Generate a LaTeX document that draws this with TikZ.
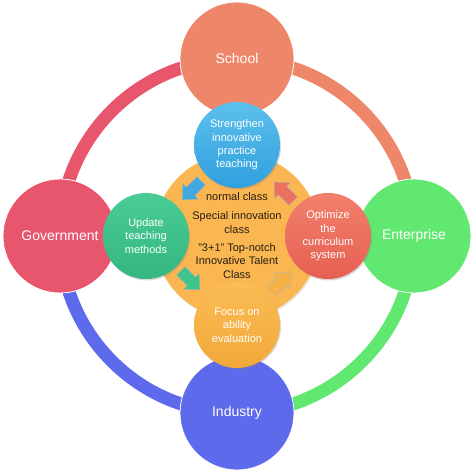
\documentclass[tikz,border=0pt]{standalone}
\usepackage{fontspec}
\setmainfont{Liberation Sans}
\usetikzlibrary{shadows,positioning}
\definecolor{govred}{RGB}{232,86,110}
\definecolor{schoolred}{RGB}{238,134,106}
\definecolor{entgreen}{RGB}{96,232,112}
\definecolor{indblue}{RGB}{94,106,236}
\definecolor{coreorange}{RGB}{250,182,80}
\definecolor{coretext}{RGB}{40,30,20}
\definecolor{arrblue}{RGB}{66,168,226}
\definecolor{arrgreen}{RGB}{62,196,140}
\definecolor{arrorange}{RGB}{246,178,70}
\definecolor{arrred}{RGB}{236,112,96}
\newcommand{\cycarrow}[3]{\draw[draw=black!30,line width=0.4pt,fill=#3,shift={(#1)},rotate=#2] (-13,-6) -- (2,-6) -- (2,-11) -- (14,0) -- (2,11) -- (2,6) -- (-13,6) -- cycle;}

\begin{document}
\begin{tikzpicture}[x=1pt,y=1pt,
  bigc/.style={circle,minimum size=114pt,inner sep=0pt,draw=white,line width=0.8pt,text=white,font=\fontsize{14}{16}\selectfont},
  smallc/.style={circle,minimum size=86pt,inner sep=0pt,align=center,text=white,font=\fontsize{11}{13.3}\selectfont,drop shadow={opacity=0.3,shadow xshift=1pt,shadow yshift=-1.5pt}},
  ringseg/.style={line width=13pt},
  coretxt/.style={align=center,text=coretext,font=\fontsize{11}{13.3}\selectfont}]
  \useasboundingbox (0,0) rectangle (474,474);
  \coordinate (c) at (237,238);
  \coordinate (gc) at (60,238);
  \coordinate (sc) at (237,415);
  \coordinate (ec) at (414,238);
  \coordinate (ic) at (237,61);
  % outer ring
  \draw[ringseg,govred] (gc) arc[start angle=180,end angle=90,radius=177];
  \draw[ringseg,schoolred] (sc) arc[start angle=90,end angle=0,radius=177];
  \draw[ringseg,entgreen] (ec) arc[start angle=0,end angle=-90,radius=177];
  \draw[ringseg,indblue] (ic) arc[start angle=-90,end angle=-180,radius=177];
  % partners
  \node[bigc,fill=govred] (gov) at (gc) {Government};
  \node[bigc,fill=schoolred] (school) at (sc) {School};
  \node[bigc,fill=entgreen] (ent) at (ec) {Enterprise};
  \node[bigc,fill=indblue] (ind) at (ic) {Industry};
  % core
  \node[circle,minimum size=166pt,fill=coreorange,drop shadow={opacity=0.2,shadow xshift=1pt,shadow yshift=-1.5pt}] (core) at (c) {};
  \node[coretxt] (normal) at (237,277) {normal class};
  \node[coretxt] (special) at (237,251.5) {Special innovation\\class};
  \node[coretxt] (topnotch) at (237,213) {"3+1" Top-notch\\Innovative Talent\\Class};
  % measures
  \node[smallc,top color={rgb,255:red,92;green,192;blue,236},bottom color={rgb,255:red,48;green,160;blue,222}] (teach) at (237,329) {Strengthen\\innovative\\practice\\teaching};
  \node[smallc,top color={rgb,255:red,74;green,204;blue,150},bottom color={rgb,255:red,52;green,182;blue,128}] (method) at (146,238) {Update\\teaching\\methods};
  \node[smallc,top color={rgb,255:red,242;green,128;blue,108},bottom color={rgb,255:red,230;green,96;blue,82}] (curr) at (328,238) {Optimize\\the\\curriculum\\system};
  \node[smallc,top color={rgb,255:red,250;green,188;blue,84},bottom color={rgb,255:red,242;green,168;blue,58}] (eval) at (237,149) {Focus on\\ability\\evaluation};
  % cycle arrows
  \coordinate (a1) at (192,284);
  \coordinate (a2) at (190,194);
  \coordinate (a3) at (281,192);
  \coordinate (a4) at (284,282);
  \cycarrow{a1}{225}{arrblue}
  \cycarrow{a2}{-45}{arrgreen}
  \cycarrow{a3}{45}{arrorange}
  \cycarrow{a4}{135}{arrred}
\end{tikzpicture}
\end{document}
